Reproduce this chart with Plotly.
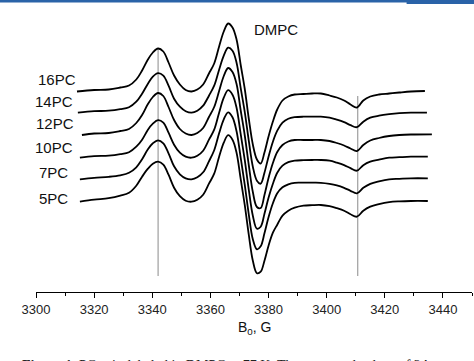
import plotly.graph_objects as go

# ---- data (field in gauss, intensity in arbitrary units) ----
field_G = [3320, 3325, 3329, 3332, 3334.5, 3336.5, 3338.5, 3340.2, 3342, 3343.8,
           3345.6, 3347.5, 3349.5, 3351.5, 3353.5, 3355.5, 3357.5, 3359.5, 3361.3, 3363,
           3364.6, 3366.1, 3367.6, 3369, 3370.4, 3371.8, 3373.2, 3374.6, 3376, 3377.3,
           3378.6, 3380, 3381.5, 3383, 3384.8, 3386.8, 3389, 3392, 3395, 3398,
           3401, 3403.5, 3406, 3408.2, 3410.4, 3412.6, 3415, 3418, 3421.5, 3425,
           3429]

labels = ["16PC", "14PC", "12PC", "10PC", "7PC", "5PC"]
start_G = [3314.1, 3314.4, 3315.8, 3315.1, 3315.1, 3315.1]
end_G = [3433.8, 3434.5, 3436.2, 3434.8, 3434.8, 3434.8]
offsets = [200.5, 179.3, 157.0, 134.3, 112.7, 90.3]

pc16 = [0,
        1.5, 2, 4, 6, 12, 21, 32, 39, 43, 40,
        29, 16, 7, 1.5, 0, 2, 7, 18, 28, 45,
        60, 68, 64, 52, 27, 3, -27, -53, -68, -72,
        -61, -45, -30, -18, -9, -5, -3, -2.5, -2, -2,
        -4, -6, -9, -13, -16, -9, -5, -3, -2, -1,
        0,
        0.5]
pc14 = [0,
        1.5, 2, 3.5, 5.5, 11, 19, 29, 36, 39.5, 37,
        27, 14, 6, 1.5, 0, 2, 7, 17, 27, 43,
        57, 65, 62, 50, 25, 1, -28, -54, -68, -71,
        -60, -44, -29, -18, -10, -6, -4.5, -4, -4, -4,
        -5, -7, -9.5, -12.5, -14.5, -9, -5, -3, -1.5, -0.5,
        0,
        0]
pc12 = [0,
        1.5, 2, 4, 6, 12, 20, 31, 38, 42, 39,
        28, 15, 6, 1.5, 0, 2, 7, 18, 28, 44,
        59, 67, 63, 51, 25, 0, -30, -57, -72, -73,
        -60, -43, -28, -17, -10, -6.5, -5, -5, -5, -5,
        -6, -8, -10.5, -13.5, -16, -10, -5.5, -3, -1, 0,
        0.5,
        0.7]
pc10 = [0,
        1.5, 2, 3.5, 5.5, 11, 18, 28, 34, 37.5, 35,
        25, 13, 5, 1, 0, 2, 7, 18, 28, 45,
        60, 67.5, 63, 50, 24, -2, -32, -58, -71, -69,
        -56, -40, -26, -15, -8, -4.5, -3, -2.5, -2.3, -2.3,
        -3, -5, -7.5, -10.5, -13, -7.5, -4, -2, 0, 0.5,
        1,
        1]
pc7 = [0,
       1.5, 2.5, 4, 6.5, 12, 20, 30, 36, 39, 36,
       26, 13, 5, 1, 0, 2, 7, 18, 29, 46,
       60, 67, 62, 48, 22, -5, -35, -60, -70, -67,
       -54, -38, -24, -14, -8, -5, -3.5, -3.4, -3.4, -3.5,
       -4.5, -6, -8.5, -11.5, -14, -8.5, -4.5, -2, 0, 0.5,
       1,
       1]
pc5 = [0,
       2, 3.5, 6, 9, 16, 25, 33, 38, 40, 37,
       27, 14, 5.5, 1, 0, 2, 7, 18, 28, 45,
       59, 66.5, 62, 49, 23, -3, -33, -59, -71.5, -70,
       -59, -44, -31, -23, -14, -9, -6, -4, -3.5, -3.3,
       -4.5, -6.5, -9, -12.5, -15, -9, -5, -2.5, -0.5, 0.3,
       0.7,
       0.7]
spectra = [pc16, pc14, pc12, pc10, pc7, pc5]

ref_fields = [3342.0, 3410.7]
ref_tops = [244, 196]
ref_bottom = 16

x_ticks = [3300, 3320, 3340, 3360, 3380, 3400, 3420, 3440]

fig = go.Figure()
for i, name in enumerate(labels):
    xs = [start_G[i]] + field_G + [end_G[i]]
    ys = [offsets[i] + v for v in spectra[i]]
    fig.add_trace(go.Scatter(x=xs, y=ys, mode="lines", name=name,
                             line=dict(color="black", width=1.8, shape="spline", smoothing=1.0),
                             showlegend=False, hoverinfo="skip"))

for xf, yt in zip(ref_fields, ref_tops):
    fig.add_shape(type="line", xref="x", yref="y", x0=xf, x1=xf, y0=ref_bottom, y1=yt,
                  line=dict(color="#8a8a8a", width=1), layer="below")

font = "Liberation Sans, Arial, sans-serif"
label_right_G = [3314.4, 3313.3, 3313.7, 3313.3, 3311.7, 3311.7]
label_y = [213, 191, 169, 145, 120, 94]
for name, xr, yl in zip(labels, label_right_G, label_y):
    fig.add_annotation(x=xr, y=yl, xref="x", yref="y", text=name, showarrow=False,
                       xanchor="right", yanchor="middle",
                       font=dict(family=font, size=15, color="#111"))

fig.add_annotation(x=3374.3, y=263, xref="x", yref="y", text="DMPC", showarrow=False,
                   xanchor="left", yanchor="middle", font=dict(family=font, size=15, color="#111"))

fig.add_annotation(x=3375, y=-0.128, xref="x", yref="paper", text="B<sub>0</sub>, G",
                   showarrow=False, xanchor="center", yanchor="middle",
                   font=dict(family=font, size=14, color="#111"))

# caption (cut off at the bottom) and journal header bar
fig.add_annotation(x=-0.037, y=-0.26, xref="paper", yref="paper", xanchor="left", yanchor="middle",
                   text="<b>Figure 1.</b> PC spin-labeled in DMPC at 77 K. The measured values of 2A",
                   showarrow=False, font=dict(family="Liberation Serif, serif", size=14, color="#222"))
fig.add_shape(type="rect", xref="paper", yref="paper", x0=-0.09, x1=1.01, y0=1.027, y1=1.05,
              line=dict(width=0), fillcolor="#2a63a8")
fig.add_shape(type="rect", xref="paper", yref="paper", x0=0.85, x1=1.01, y0=1.021, y1=1.05,
              line=dict(width=0), fillcolor="#2a63a8")

fig.update_xaxes(range=[3300, 3450], tickvals=x_ticks, ticks="outside", ticklen=5, tickwidth=1,
                 tickcolor="black", showline=True, linecolor="black", linewidth=1,
                 showgrid=False, zeroline=False,
                 minor=dict(dtick=10, tick0=3300, ticks="outside", ticklen=3, tickcolor="black",
                            showgrid=False),
                 tickfont=dict(family=font, size=13, color="#222"))
fig.update_yaxes(range=[0, 282], visible=False, showgrid=False, zeroline=False)

fig.update_layout(width=474, height=361, margin=dict(l=36, r=2, t=10, b=69),
                  plot_bgcolor="white", paper_bgcolor="white")

fig.write_html("out.html", config={"displayModeBar": False},
               post_script="document.body.style.margin='0px';document.body.style.overflow='hidden';")
